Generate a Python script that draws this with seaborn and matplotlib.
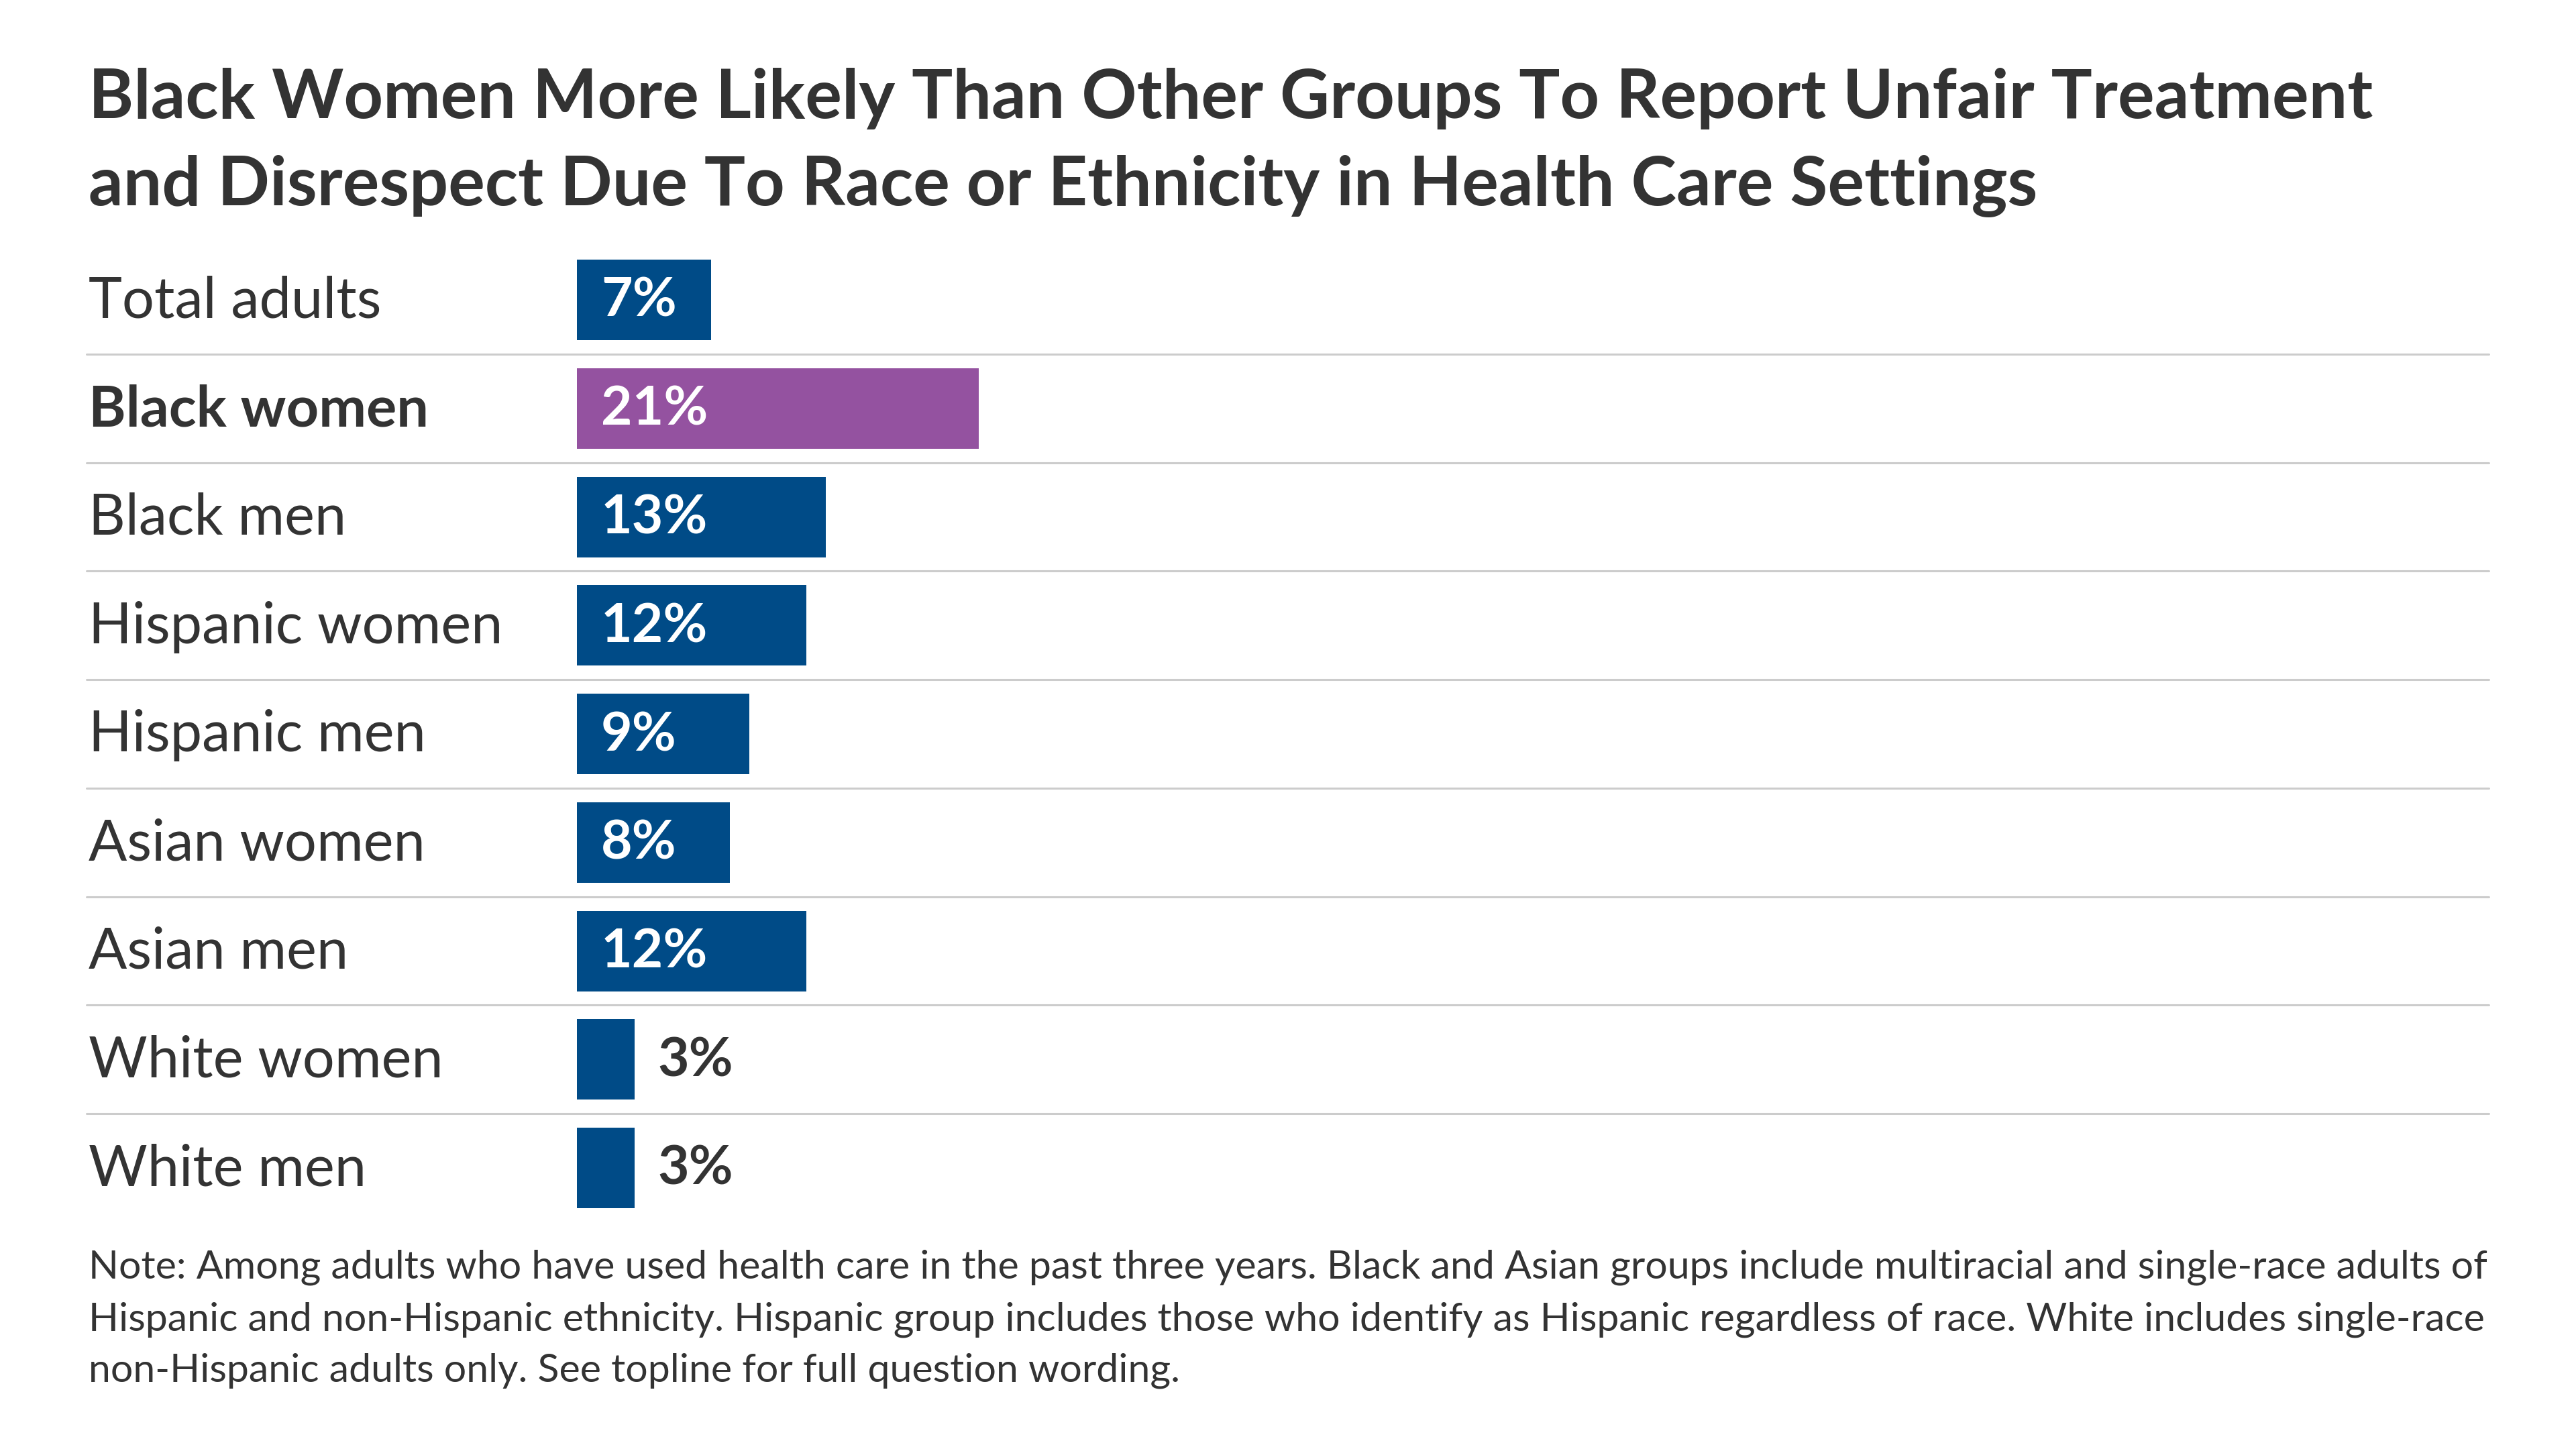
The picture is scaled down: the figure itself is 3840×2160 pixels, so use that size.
import matplotlib
matplotlib.use("Agg")
import matplotlib.pyplot as plt
import matplotlib.transforms as mtransforms
from matplotlib.lines import Line2D
import seaborn as sns
import pandas as pd

# ---- data ----
categories = ["Total adults", "Black women", "Black men", "Hispanic women",
              "Hispanic men", "Asian women", "Asian men", "White women", "White men"]
values = [7, 21, 13, 12, 9, 8, 12, 3, 3]
highlight = "Black women"
title_lines = ["Black Women More Likely Than Other Groups To Report Unfair Treatment",
               "and Disrespect Due To Race or Ethnicity in Health Care Settings"]
note_lines = [
    "Note: Among adults who have used health care in the past three years. Black and Asian groups include multiracial and single-race adults of",
    "Hispanic and non-Hispanic ethnicity. Hispanic group includes those who identify as Hispanic regardless of race. White includes single-race",
    "non-Hispanic adults only. See topline for full question wording.",
]

BLUE = "#004b87"
PURPLE = "#9452a0"
TEXT = "#333333"
FONT = "Lato"

sns.set_theme(style="white")
plt.rcParams["font.family"] = [FONT, "DejaVu Sans"]

W, H = 3840, 2160
DPI = 100
fig = plt.figure(figsize=(W / DPI, H / DPI), dpi=DPI)
fig.patch.set_facecolor("white")

# axes: bars from x=860px to 3710px, rows centred 447..1741px
pitch = 161.75
top_px = 447 - pitch / 2
bot_px = 1741 + pitch / 2
ax = fig.add_axes([860 / W, 1 - bot_px / H, (3710 - 860) / W, (bot_px - top_px) / H])

df = pd.DataFrame({"category": categories, "value": values})
palette = {c: (PURPLE if c == highlight else BLUE) for c in categories}
sns.barplot(data=df, x="value", y="category", hue="category", palette=palette,
            legend=False, orient="h", width=120 / pitch, ax=ax, saturation=1,
            linewidth=0)
ax.set_xlim(0, 100)
ax.set_ylim(len(categories) - 0.5, -0.5)
ax.axis("off")

blend = mtransforms.blended_transform_factory(fig.transFigure, ax.transData)

# separators between rows
for i in range(len(categories) - 1):
    ln = Line2D([129 / W, 3710 / W], [i + 0.5, i + 0.5], transform=blend,
                color="#cccccc", linewidth=2.2, clip_on=False)
    fig.add_artist(ln)

# category labels
for i, c in enumerate(categories):
    ax.annotate(c, xy=(132 / W, i), xycoords=blend, xytext=(0, -19),
                textcoords="offset points", ha="left", va="baseline",
                fontsize=61, color=TEXT,
                fontweight="bold" if c == highlight else "normal")

# value labels
for i, v in enumerate(values):
    if v >= 5:
        ax.annotate(f"{v}%", xy=(0, i), xycoords="data", xytext=(26, -18),
                    textcoords="offset points", ha="left", va="baseline",
                    fontsize=58, color="white", fontweight="bold")
    else:
        ax.annotate(f"{v}%", xy=(v, i), xycoords="data", xytext=(25, -18),
                    textcoords="offset points", ha="left", va="baseline",
                    fontsize=58, color=TEXT, fontweight="bold")

# title
for j, t in enumerate(title_lines):
    fig.text(132 / W, 1 - (176 + 130 * j) / H, t, ha="left", va="baseline",
             fontsize=73.5, fontweight="bold", color=TEXT)

# note
for j, t in enumerate(note_lines):
    fig.text(132 / W, 1 - (1906 + 77 * j) / H, t, ha="left", va="baseline",
             fontsize=42.5, color=TEXT)

fig.savefig("out.png", dpi=DPI, facecolor="white")
